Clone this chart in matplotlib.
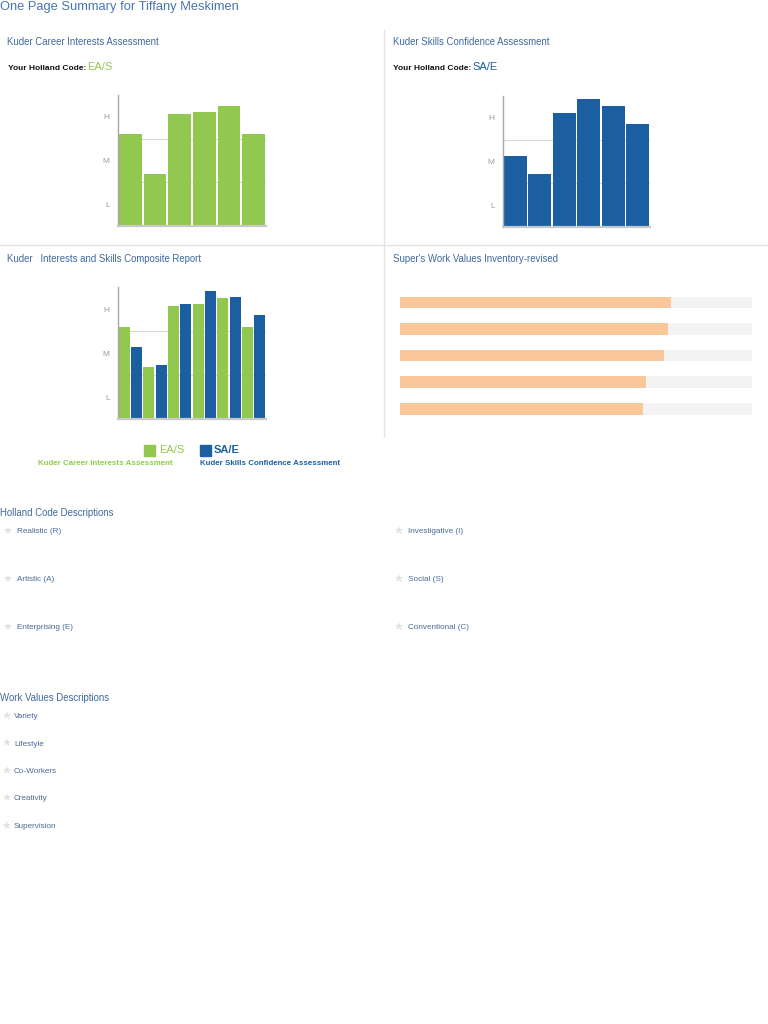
import matplotlib
matplotlib.use("Agg")
import matplotlib.pyplot as plt
from matplotlib.lines import Line2D
from matplotlib.patches import Rectangle
import numpy as np

plt.rcParams['font.family'] = ['Liberation Sans', 'DejaVu Sans']

# ---------------- data ----------------
holland_categories = ["R", "I", "A", "S", "E", "C"]
career_interests = [2.10, 1.19, 2.56, 2.62, 2.75, 2.10]
skills_confidence = [1.63, 1.22, 2.62, 2.92, 2.77, 2.37]
level_labels = ["L", "M", "H"]
career_code = "EA/S"
skills_code = "SA/E"
work_values = ["Variety", "Lifestyle", "Co-Workers", "Creativity", "Supervision"]
work_scores = [77, 76, 75, 70, 69]
holland_desc_left = ["Realistic (R)", "Artistic (A)", "Enterprising (E)"]
holland_desc_right = ["Investigative (I)", "Social (S)", "Conventional (C)"]

GREEN = "#92c84f"
BLUE = "#1b5fa1"
ORANGE = "#f9c799"
TRACK = "#f3f3f3"
HEAD = "#3f6a9e"
DESC = "#4b6b98"
W, H = 768, 1024

fig = plt.figure(figsize=(W / 100, H / 100), dpi=100)
fig.patch.set_facecolor("white")


def fx(x):
    return x / W


def fy(y):
    return 1 - y / H


def add_ax(l, t, r, b):
    return fig.add_axes([fx(l), fy(b), (r - l) / W, (b - t) / H])


def txt(x, y, s, **kw):
    kw.setdefault("va", "center")
    kw.setdefault("ha", "left")
    fig.text(fx(x), fy(y), s, **kw)


def style_level_axis(ax):
    ax.set_ylim(0, 3)
    for sp in ["top", "right"]:
        ax.spines[sp].set_visible(False)
    ax.spines["left"].set_color("#a8a8a8")
    ax.spines["left"].set_linewidth(1.0)
    ax.spines["bottom"].set_color("#c8c8c8")
    ax.spines["bottom"].set_linewidth(1.6)
    ax.set_xticks([])
    ax.set_yticks([0.5, 1.5, 2.5])
    ax.set_yticklabels(level_labels, color="#9a9a9a", fontsize=6)
    ax.tick_params(axis="y", length=0, pad=6)
    for g in [1, 2]:
        ax.axhline(g, color="#d9d9d9", lw=0.9, zorder=0)
    ax.set_facecolor("none")


# ---------------- dividers ----------------
fig.add_artist(Line2D([fx(384), fx(384)], [fy(30), fy(436)], color="#e4e4e4", lw=1.0))
fig.add_artist(Line2D([0, 1], [fy(245), fy(245)], color="#e4e4e4", lw=1.0))

# ---------------- titles ----------------
txt(0, 7, "One Page Summary for Tiffany Meskimen", fontsize=9.3, color="#4a74ad")
txt(7, 42, "Kuder Career Interests Assessment", fontsize=6.9, color=HEAD)
txt(393, 42, "Kuder Skills Confidence Assessment", fontsize=6.9, color=HEAD)
txt(7, 259, "Kuder   Interests and Skills Composite Report", fontsize=6.9, color=HEAD)
txt(393, 259, "Super's Work Values Inventory-revised", fontsize=6.9, color=HEAD)

txt(8, 68, "Your Holland Code:", fontsize=6, fontweight="bold", color="#111111")
txt(87, 67.5, career_code, fontsize=8, color=GREEN)
txt(393, 68, "Your Holland Code:", fontsize=6, fontweight="bold", color="#111111")
txt(472, 67.5, skills_code, fontsize=8, color=BLUE)

# ---------------- chart 1: career interests ----------------
x = np.arange(len(holland_categories))
ax1 = add_ax(118, 95, 266, 226)
ax1.bar(x, career_interests, width=0.93, color=GREEN, zorder=2)
ax1.set_xlim(-0.5, len(x) - 0.5)
style_level_axis(ax1)

# ---------------- chart 2: skills confidence ----------------
ax2 = add_ax(503, 96, 650, 227)
ax2.bar(x, skills_confidence, width=0.93, color=BLUE, zorder=2)
ax2.set_xlim(-0.5, len(x) - 0.5)
style_level_axis(ax2)

# ---------------- chart 3: composite ----------------
ax3 = add_ax(118, 287, 266, 419)
ax3.bar(2 * x, career_interests, width=0.9, color=GREEN, zorder=2)
ax3.bar(2 * x + 1, skills_confidence, width=0.9, color=BLUE, zorder=2)
ax3.set_xlim(-0.5, 2 * len(x) - 0.5)
style_level_axis(ax3)

# legend
fig.add_artist(Rectangle((fx(144), fy(456)), 11 / W, 11 / H, color=GREEN))
txt(159, 450, career_code, fontsize=8, color=GREEN)
fig.add_artist(Rectangle((fx(200), fy(456)), 11 / W, 11 / H, color=BLUE))
txt(214, 450, skills_code, fontsize=8, color=BLUE, fontweight="bold")
txt(38, 463.5, "Kuder Career Interests Assessment", fontsize=5.7, fontweight="bold", color=GREEN)
txt(200, 463.5, "Kuder Skills Confidence Assessment", fontsize=5.7, fontweight="bold", color=BLUE)

# ---------------- work values ----------------
ax4 = add_ax(400, 289.2, 752, 422.1)
yy = np.arange(len(work_values))
ax4.barh(yy, [100] * len(yy), height=0.44, color=TRACK, zorder=1)
ax4.barh(yy, work_scores, height=0.44, color=ORANGE, zorder=2)
ax4.set_xlim(0, 100)
ax4.set_ylim(len(yy) - 0.5, -0.5)
ax4.axis("off")

# ---------------- descriptions ----------------
STAR = "\u2605"
txt(0, 513, "Holland Code Descriptions", fontsize=6.9, color=HEAD)
for i, (a, b) in enumerate(zip(holland_desc_left, holland_desc_right)):
    y = 531.5 + 48 * i
    txt(2, y, STAR, fontsize=8, color="#e2e2e2", family="DejaVu Sans")
    txt(17, y, a, fontsize=5.9, color=DESC)
    txt(393, y, STAR, fontsize=8, color="#e2e2e2", family="DejaVu Sans")
    txt(408, y, b, fontsize=5.9, color=DESC)

txt(0, 698, "Work Values Descriptions", fontsize=6.9, color=HEAD)
for i, wv in enumerate(work_values):
    y = 716.5 + 27.5 * i
    txt(1, y, STAR, fontsize=8, color="#e2e2e2", family="DejaVu Sans")
    txt(14, y, wv, fontsize=5.9, color=DESC)

fig.savefig("out.png", dpi=100, facecolor="white")
